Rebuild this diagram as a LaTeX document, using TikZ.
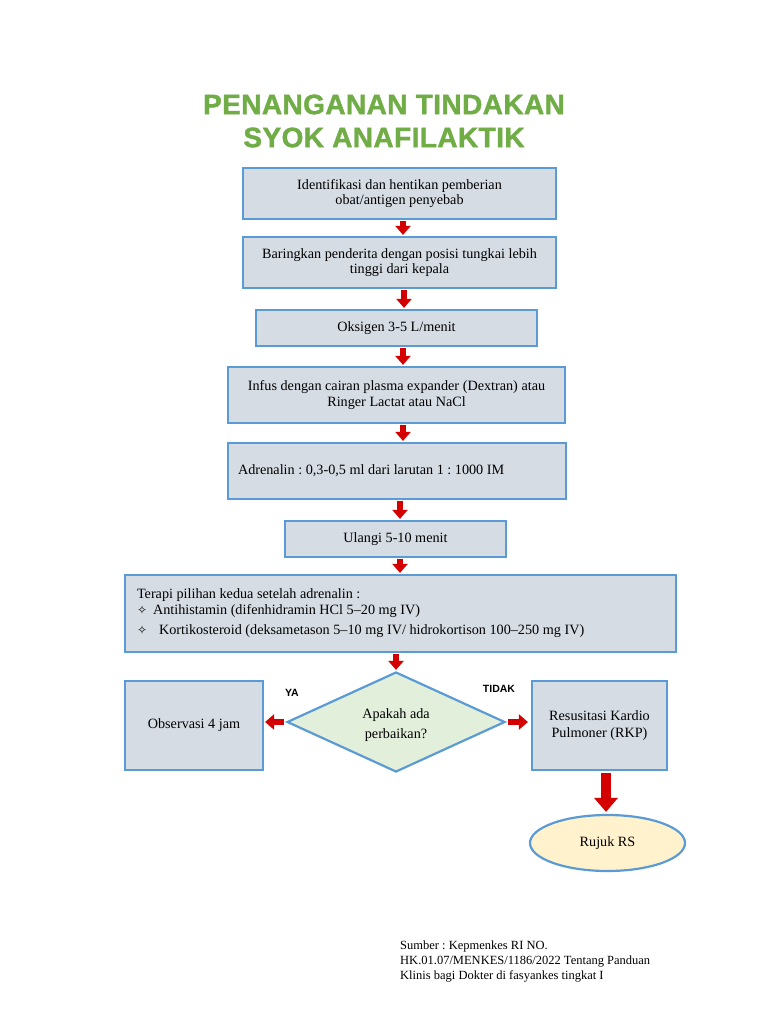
\documentclass[tikz,border=0pt]{standalone}
\usepackage{fontspec}
\setmainfont{Liberation Serif}
\setsansfont{Liberation Sans}
\newfontfamily\symfont{DejaVu Sans}
\newfontfamily\titlefont[FakeBold=1.4,LetterSpace=1.5]{Liberation Sans Bold}
\frenchspacing
\usetikzlibrary{arrows.meta,shapes.geometric}
\definecolor{boxfill}{HTML}{D6DCE4}
\definecolor{boxline}{HTML}{5B9BD5}
\definecolor{diafill}{HTML}{E2EFDA}
\definecolor{ellfill}{HTML}{FFF2CC}
\definecolor{arrred}{HTML}{D40000}
\definecolor{titlegreen}{HTML}{70AD47}
\tikzset{
  box/.style={draw=boxline, fill=boxfill, line width=2.2pt, rectangle, align=center, inner sep=0pt,
    font=\fontsize{14.2}{15.5}\selectfont},
  arr/.style={draw=arrred, line width=6.5pt, -{Triangle[width=15pt,length=9pt]}},
  bigarr/.style={draw=arrred, line width=10pt, -{Triangle[width=23pt,length=14pt]}},
  lbl/.style={font=\sffamily\bfseries\fontsize{10.5}{12}\selectfont},
}
\begin{document}
\begin{tikzpicture}[x=1pt,y=-1pt]
\useasboundingbox (0,0) rectangle (768,1024);
\fill[white] (0,0) rectangle (768,1024);

\node[font=\titlefont\fontsize{28}{33}\selectfont, text=titlegreen, align=center] (title) at (384,121)
  {PENANGANAN TINDAKAN\\SYOK ANAFILAKTIK};

\node[box, minimum width=313pt, minimum height=51pt] (b1) at (399.5,193.5)
  {Identifikasi dan hentikan pemberian\\obat/antigen penyebab};
\node[box, minimum width=313pt, minimum height=51pt] (b2) at (399.5,262.5)
  {Baringkan penderita dengan posisi tungkai lebih\\tinggi dari kepala};
\node[box, minimum width=281pt, minimum height=36pt] (b3) at (396.5,328)
  {Oksigen 3-5 L/menit};
\node[box, minimum width=337pt, minimum height=56pt] (b4) at (396.5,395)
  {Infus dengan cairan plasma expander (Dextran) atau\\Ringer Lactat atau NaCl};
\node[box, minimum height=56pt, text width=318pt, inner xsep=10pt, align=flush left] (b5) at (397,471)
  {Adrenalin : 0,3-0,5 ml dari larutan 1 : 1000 IM};
\node[box, minimum width=221pt, minimum height=36pt] (b6) at (395.5,539)
  {Ulangi 5-10 menit};
\node[box, minimum height=77pt, text width=527pt, inner xsep=12pt, align=flush left] (b7) at (400.5,613.5)
  {Terapi pilihan kedua setelah adrenalin :\\
   {\symfont\fontsize{12}{15}\selectfont ✧}\hspace{6pt}Antihistamin (difenhidramin HCl 5–20 mg IV)\\[5pt]
   {\symfont\fontsize{12}{15}\selectfont ✧}\hspace{12pt}Kortikosteroid (deksametason 5–10 mg IV/ hidrokortison 100–250 mg IV)};

\node[diamond, draw=boxline, fill=diafill, line width=2.2pt, minimum width=218pt, minimum height=100pt,
  inner sep=0pt, align=center, font=\fontsize{14.2}{15.5}\selectfont] (d) at (396,722)
  {\raisebox{-3pt}[\height][\depth]{Apakah ada}\\[4pt]\raisebox{-3pt}[\height][\depth]{perbaikan?}};
\node[box, minimum width=138pt, minimum height=89pt] (obs) at (194,725.5) {Observasi 4 jam};
\node[box, minimum width=135pt, minimum height=89pt] (rkp) at (599.5,725.5) {Resusitasi Kardio\\[1.5pt]Pulmoner (RKP)};
\node[ellipse, draw=boxline, fill=ellfill, line width=2.2pt, minimum width=155pt, minimum height=56pt,
  inner sep=0pt, font=\fontsize{14.2}{15.5}\selectfont] (rs) at (607.5,843) {Rujuk RS};

\node[lbl] (ya) at (292,693) {YA};
\node[lbl] (tidak) at (499,689) {TIDAK};

\node[anchor=north west, align=flush left, inner sep=0pt, font=\fontsize{12.5}{15}\selectfont] (src) at (400,941)
  {Sumber : Kepmenkes RI NO.\\HK.01.07/MENKES/1186/2022 Tentang Panduan\\Klinis bagi Dokter di fasyankes tingkat I};

\draw[arr] ([xshift=3.5pt,yshift=-1pt]b1.south) -- ([xshift=3.5pt,yshift=1pt]b2.north);
\draw[arr] ([xshift=4.5pt,yshift=-1pt]b2.south) -- ([xshift=7.5pt,yshift=1pt]b3.north);
\draw[arr] ([xshift=6.5pt,yshift=-1pt]b3.south) -- ([xshift=6.5pt,yshift=1pt]b4.north);
\draw[arr] ([xshift=6.5pt,yshift=-1pt]b4.south) -- ([xshift=6pt,yshift=1pt]b5.north);
\draw[arr] ([xshift=3pt,yshift=-1pt]b5.south) -- ([xshift=4.5pt,yshift=1pt]b6.north);
\draw[arr] ([xshift=4.5pt,yshift=-1pt]b6.south) -- ([xshift=-0.5pt,yshift=1pt]b7.north);
\draw[arr] ([xshift=-4.5pt,yshift=-1pt]b7.south) -- ([yshift=1pt]d.north);
\draw[arr] ([xshift=-2pt]d.west) -- ([xshift=1pt]d.west -| obs.east);
\draw[arr] ([xshift=2pt]d.east) -- ([xshift=-3pt]d.east -| rkp.west);
\draw[bigarr] ([xshift=6.5pt,yshift=-2pt]rkp.south) -- ([xshift=-1.5pt,yshift=2pt]rs.north);
\end{tikzpicture}
\end{document}
